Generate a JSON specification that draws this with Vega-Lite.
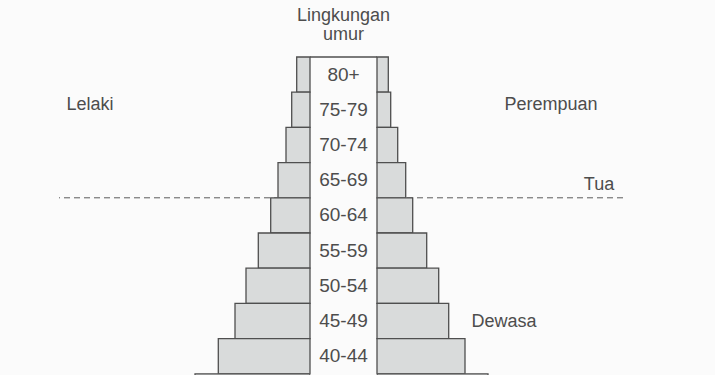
{
  "$schema": "https://vega.github.io/schema/vega-lite/v6.json",
  "background": "#fbfbfb",
  "padding": {"top": 7, "left": 0, "right": 0, "bottom": 0},
  "spacing": 0,
  "bounds": "flush",
  "config": {
    "view": {"stroke": null},
    "font": "Liberation Sans",
    "text": {"font": "Liberation Sans", "color": "#4d4d4d"}
  },
  "datasets": {
    "pop": [
      {"umur": "80+", "lelaki": 13.3, "perempuan": 11.3},
      {"umur": "75-79", "lelaki": 18.3, "perempuan": 13.7},
      {"umur": "70-74", "lelaki": 24, "perempuan": 20.7},
      {"umur": "65-69", "lelaki": 32, "perempuan": 28.7},
      {"umur": "60-64", "lelaki": 39.3, "perempuan": 35.7},
      {"umur": "55-59", "lelaki": 51.7, "perempuan": 49.7},
      {"umur": "50-54", "lelaki": 64, "perempuan": 61.7},
      {"umur": "45-49", "lelaki": 75, "perempuan": 71.7},
      {"umur": "40-44", "lelaki": 91.7, "perempuan": 88},
      {"umur": "35-39", "lelaki": 115, "perempuan": 111}
    ],
    "garis": [
      {"sisi": "L", "umur": "60-64", "dari": 0, "sampai": 251},
      {"sisi": "R", "umur": "60-64", "dari": 0, "sampai": 246}
    ],
    "catatan": [
      {"sisi": "L", "teks": "Lelaki", "umur": "75-79", "posisi": 220},
      {"sisi": "R", "teks": "Perempuan", "umur": "75-79", "posisi": 174},
      {"sisi": "R", "teks": "Tua", "umur": "65-69", "posisi": 222},
      {"sisi": "R", "teks": "Dewasa", "umur": "45-49", "posisi": 127}
    ]
  },
  "hconcat": [
    {
      "width": 310,
      "height": 318,
      "layer": [
        {
          "data": {"name": "garis"},
          "transform": [{"filter": "datum.sisi == 'L'"}],
          "mark": {"type": "rule", "color": "#5a5a5a", "strokeWidth": 1, "strokeDash": [6, 4]},
          "encoding": {
            "y": {"field": "umur", "type": "nominal", "bandPosition": 0},
            "x": {"field": "dari", "type": "quantitative"},
            "x2": {"field": "sampai"}
          }
        },
        {
          "data": {"name": "pop"},
          "transform": [{"filter": "datum.umur != '35-39'"}],
          "mark": {"type": "bar", "fill": "#d9dbdb", "stroke": "#4f4f4f", "strokeWidth": 1.3},
          "encoding": {
            "y": {"field": "umur", "type": "nominal"},
            "x": {"field": "lelaki", "type": "quantitative"}
          }
        },
        {
          "data": {"name": "pop"},
          "transform": [{"filter": "datum.umur == '35-39'"}],
          "mark": {"type": "bar", "fill": "#d9dbdb", "stroke": "#4f4f4f", "strokeWidth": 1.3, "clip": true},
          "encoding": {
            "y": {"field": "umur", "type": "nominal"},
            "x": {"field": "lelaki", "type": "quantitative"}
          }
        },
        {
          "data": {"name": "catatan"},
          "transform": [{"filter": "datum.sisi == 'L'"}],
          "mark": {"type": "text", "fontSize": 18, "dy": -5},
          "encoding": {
            "y": {"field": "umur", "type": "nominal"},
            "x": {"field": "posisi", "type": "quantitative"},
            "text": {"field": "teks"}
          }
        }
      ],
      "encoding": {
        "y": {"field": "umur", "type": "nominal", "axis": null,
          "scale": {"domain": ["80+","75-79","70-74","65-69","60-64","55-59","50-54","45-49","40-44","35-39"], "range": [0, 352], "paddingInner": 0, "paddingOuter": 0}},
        "x": {"type": "quantitative", "axis": null, "scale": {"domain": [0, 310], "reverse": true, "nice": false, "zero": true}}
      }
    },
    {
      "width": 67,
      "height": 318,
      "title": {"text": ["Lingkungan", "umur"], "fontSize": 18, "font": "Liberation Sans", "fontWeight": "normal", "color": "#4d4d4d", "anchor": "middle", "offset": 12, "lineHeight": 19},
      "data": {"name": "pop"},
      "layer": [
        {
          "transform": [{"filter": "datum.umur == '80+'"}],
          "mark": {"type": "rule", "color": "#4f4f4f", "strokeWidth": 1.3},
          "encoding": {"y": {"field": "umur", "type": "nominal", "bandPosition": 0}}
        },
        {
          "transform": [{"filter": "datum.umur != '35-39'"}],
          "mark": {"type": "text", "fontSize": 19, "color": "#4d4d4d"},
          "encoding": {
            "y": {"field": "umur", "type": "nominal"},
            "text": {"field": "umur"}
          }
        }
      ],
      "encoding": {
        "y": {"field": "umur", "type": "nominal", "axis": null,
          "scale": {"domain": ["80+","75-79","70-74","65-69","60-64","55-59","50-54","45-49","40-44","35-39"], "range": [0, 352], "paddingInner": 0, "paddingOuter": 0}}
      }
    },
    {
      "width": 338,
      "height": 318,
      "layer": [
        {
          "data": {"name": "garis"},
          "transform": [{"filter": "datum.sisi == 'R'"}],
          "mark": {"type": "rule", "color": "#5a5a5a", "strokeWidth": 1, "strokeDash": [6, 4]},
          "encoding": {
            "y": {"field": "umur", "type": "nominal", "bandPosition": 0},
            "x": {"field": "dari", "type": "quantitative"},
            "x2": {"field": "sampai"}
          }
        },
        {
          "data": {"name": "pop"},
          "transform": [{"filter": "datum.umur != '35-39'"}],
          "mark": {"type": "bar", "fill": "#d9dbdb", "stroke": "#4f4f4f", "strokeWidth": 1.3},
          "encoding": {
            "y": {"field": "umur", "type": "nominal"},
            "x": {"field": "perempuan", "type": "quantitative"}
          }
        },
        {
          "data": {"name": "pop"},
          "transform": [{"filter": "datum.umur == '35-39'"}],
          "mark": {"type": "bar", "fill": "#d9dbdb", "stroke": "#4f4f4f", "strokeWidth": 1.3, "clip": true},
          "encoding": {
            "y": {"field": "umur", "type": "nominal"},
            "x": {"field": "perempuan", "type": "quantitative"}
          }
        },
        {
          "data": {"name": "catatan"},
          "transform": [{"filter": "datum.teks == 'Perempuan'"}],
          "mark": {"type": "text", "fontSize": 18, "dy": -5},
          "encoding": {
            "y": {"field": "umur", "type": "nominal"},
            "x": {"field": "posisi", "type": "quantitative"},
            "text": {"field": "teks"}
          }
        },
        {
          "data": {"name": "catatan"},
          "transform": [{"filter": "datum.teks == 'Tua'"}],
          "mark": {"type": "text", "fontSize": 18, "dy": 5},
          "encoding": {
            "y": {"field": "umur", "type": "nominal"},
            "x": {"field": "posisi", "type": "quantitative"},
            "text": {"field": "teks"}
          }
        },
        {
          "data": {"name": "catatan"},
          "transform": [{"filter": "datum.teks == 'Dewasa'"}],
          "mark": {"type": "text", "fontSize": 18, "dy": 1},
          "encoding": {
            "y": {"field": "umur", "type": "nominal"},
            "x": {"field": "posisi", "type": "quantitative"},
            "text": {"field": "teks"}
          }
        }
      ],
      "encoding": {
        "y": {"field": "umur", "type": "nominal", "axis": null,
          "scale": {"domain": ["80+","75-79","70-74","65-69","60-64","55-59","50-54","45-49","40-44","35-39"], "range": [0, 352], "paddingInner": 0, "paddingOuter": 0}},
        "x": {"type": "quantitative", "axis": null, "scale": {"domain": [0, 338], "nice": false, "zero": true}}
      }
    }
  ]
}
